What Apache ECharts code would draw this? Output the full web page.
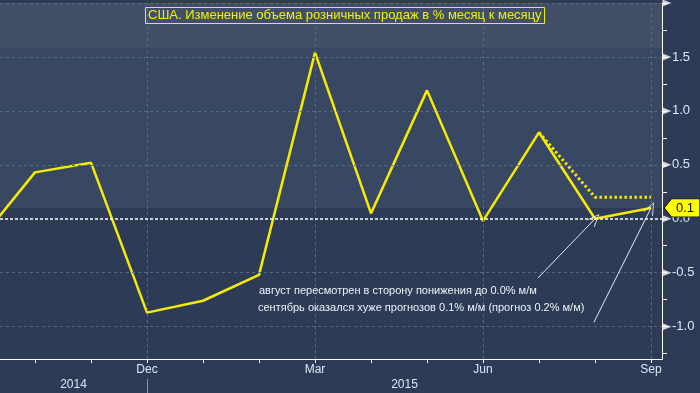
<!DOCTYPE html>
<html>
<head>
<meta charset="utf-8">
<script src="https://cdn.jsdelivr.net/npm/echarts@6/dist/echarts.min.js"></script>
<style>
html,body{margin:0;padding:0;background:#2d3b57;}
#c{width:700px;height:393px;}
</style>
</head>
<body>
<div id="c"></div>
<script>
// ---- data ----
const categories = ['Sep 2014','Oct 2014','Nov 2014','Dec 2014','Jan 2015','Feb 2015','Mar 2015','Apr 2015','May 2015','Jun 2015','Jul 2015','Aug 2015','Sep 2015'];
const retailMoM = [-0.21, 0.43, 0.52, -0.87, -0.76, -0.52, 1.54, 0.05, 1.19, -0.02, 0.80, 0.00, 0.10];
const previousReading = [null, null, null, null, null, null, null, null, null, null, 0.80, 0.20, 0.20];
const monthTickLabels = {3: 'Dec', 6: 'Mar', 9: 'Jun', 12: 'Sep'};
const yearLabels = ['2014', '2015'];
const yearBoundaryIndex = 3;
const yTickValues = [-1.0, -0.5, 0.0, 0.5, 1.0, 1.5, 2.0];
const yMinorTicks = [-1.25, -1.0, -0.75, -0.5, -0.25, 0, 0.25, 0.5, 0.75, 1.0, 1.25, 1.5, 1.75, 2.0];
const bandLevels = [0.10, 1.58, 2.0];
const titleText = 'США. Изменение объема розничных продаж в % месяц к месяцу';
const note1 = 'август пересмотрен в сторону понижения до 0.0% м/м';
const note2 = 'сентябрь оказался хуже прогнозов 0.1% м/м (прогноз 0.2% м/м)';
const arrowStarts = [[9.98, -0.55], [10.98, -0.96]];
const arrowTargets = [11, 12];

// ---- chart ----
const X_MIN = 0.375, X_MAX = 12.196, Y_MIN = -1.3, Y_MAX = 2.0;
const FONT = 'Liberation Sans';
const gridColor = '#52698a';
const labelColor = '#dde6f3';

const chart = echarts.init(document.getElementById('c'), null, {renderer: 'canvas'});
const pairs = retailMoM.map((v, i) => [i, v]);
const prevPairs = previousReading.map((v, i) => [i, v]);
const monthIdx = categories.map((c, i) => i).filter(i => i > 0);
const gridMonths = Object.keys(monthTickLabels).map(Number);

const chevron = 'path://M0,0 L6,14 L5,14 L0,2 L-5,14 L-6,14 Z';

const option = {
  backgroundColor: '#2d3b57',
  animation: false,
  title: {
    text: titleText,
    left: 145, top: 7,
    padding: [2, 3, 2, 3],
    borderColor: '#f2f200', borderWidth: 1,
    textStyle: {color: '#f2f200', fontSize: 13, fontWeight: 'normal', fontFamily: FONT}
  },
  grid: {left: 0, right: 38, top: 3, bottom: 34, containLabel: false},
  xAxis: [{
    type: 'value', min: X_MIN, max: X_MAX, position: 'bottom',
    axisLine: {show: true, onZero: false, lineStyle: {color: '#ffffff', width: 1}},
    axisTick: {show: true, customValues: monthIdx, length: 4, lineStyle: {color: '#ffffff'}},
    axisLabel: {show: true, customValues: gridMonths, formatter: v => monthTickLabels[Math.round(v)] || '',
      color: labelColor, fontSize: 12, fontFamily: FONT, margin: 5},
    splitLine: {show: false}
  }, {
    type: 'value', min: X_MIN, max: X_MAX, position: 'bottom', offset: 20,
    axisLine: {show: true, onZero: false, lineStyle: {color: '#2d3b57', width: 0, opacity: 0}},
    axisTick: {show: true, customValues: [yearBoundaryIndex], length: 14, lineStyle: {color: '#8d97ab', width: 1}},
    axisLabel: {show: true, customValues: [(X_MIN + yearBoundaryIndex) / 2, (yearBoundaryIndex + X_MAX) / 2],
      formatter: v => (v < yearBoundaryIndex ? yearLabels[0] : yearLabels[1]),
      color: labelColor, fontSize: 12, fontFamily: FONT, margin: 0},
    splitLine: {show: false}
  }],
  yAxis: {
    type: 'value', min: Y_MIN, max: Y_MAX, position: 'right',
    axisLine: {show: true, lineStyle: {color: '#ffffff', width: 1}},
    axisTick: {show: true, customValues: yMinorTicks, length: 5, lineStyle: {color: '#ffffff'}},
    axisLabel: {show: true, customValues: yTickValues, margin: 10,
      formatter: v => (v >= 1.99 ? '' : (v < 0 ? '-' + Math.abs(v).toFixed(1) : v.toFixed(1))),
      color: labelColor, fontSize: 13, fontFamily: FONT},
    splitLine: {show: false}
  },
  graphic: [
    {type: 'text', left: 259, top: 285, z: 100, style: {text: note1, fill: '#eef2f8', font: '11px "Liberation Sans"'}},
    {type: 'text', left: 258, top: 302, z: 100, style: {text: note2, fill: '#eef2f8', font: '11px "Liberation Sans"'}}
  ],
  series: [
    {
      name: 'bands', type: 'line', data: pairs, symbol: 'none', silent: true, z: 0,
      lineStyle: {opacity: 0},
      markArea: {silent: true, data: [
        [{yAxis: bandLevels[0], itemStyle: {color: '#394862'}}, {yAxis: bandLevels[1]}],
        [{yAxis: bandLevels[1], itemStyle: {color: '#424f67'}}, {yAxis: bandLevels[2]}]
      ]}
    },
    {
      name: 'grid', type: 'line', data: pairs, symbol: 'none', silent: true, z: 1,
      lineStyle: {opacity: 0},
      markLine: {silent: true, symbol: 'none', label: {show: false},
        lineStyle: {color: gridColor, type: [3, 3], width: 1},
        data: yTickValues.filter(v => v !== 0).map(v => ({yAxis: v}))
          .concat(gridMonths.map(m => ({xAxis: m})))}
    },
    {
      name: 'zero', type: 'line', data: pairs, symbol: 'none', silent: true, z: 2,
      lineStyle: {opacity: 0},
      markLine: {silent: true, symbol: 'none', label: {show: false},
        lineStyle: {color: '#ffffff', type: [3, 2], width: 1.5},
        data: [{yAxis: 0}]}
    },
    {
      name: 'tickMarkers', type: 'scatter', silent: true, clip: false, z: 5,
      data: yTickValues.map(v => [X_MAX, v]),
      symbol: 'path://M0,0 L9,3.5 L0,7 Z', symbolSize: [9, 7], symbolOffset: [5, 0],
      itemStyle: {color: '#ffffff'}
    },
    {
      name: 'previous', type: 'line', data: prevPairs, symbol: 'none', z: 3,
      lineStyle: {color: '#f5ec00', width: 3, type: [2.5, 2.5]}
    },
    {
      name: 'retail', type: 'line', data: pairs, symbol: 'none', z: 4,
      lineStyle: {color: '#f5ec00', width: 2.5},
      markLine: {silent: true, symbol: ['none', chevron], symbolSize: [11, 13],
        label: {show: false},
        lineStyle: {color: '#e8ecf2', type: 'solid', width: 1},
        data: arrowStarts.map((s, k) => [{coord: s}, {coord: [arrowTargets[k], retailMoM[arrowTargets[k]]]}])},
      markPoint: {
        silent: true,
        symbol: 'path://M0,9 L8,0 L40,0 L40,18 L8,18 Z',
        symbolSize: [36, 18],
        symbolOffset: [20, 0],
        itemStyle: {color: '#ffff00', borderColor: '#1a1a1a', borderWidth: 1},
        label: {show: true, position: 'inside', color: '#111', fontSize: 13, fontFamily: FONT, offset: [3, 0],
          formatter: p => p.value.toFixed(1)},
        data: [{coord: [X_MAX, retailMoM[retailMoM.length - 1]], value: retailMoM[retailMoM.length - 1]}]
      }
    }
  ]
};
chart.setOption(option);
</script>
</body>
</html>
